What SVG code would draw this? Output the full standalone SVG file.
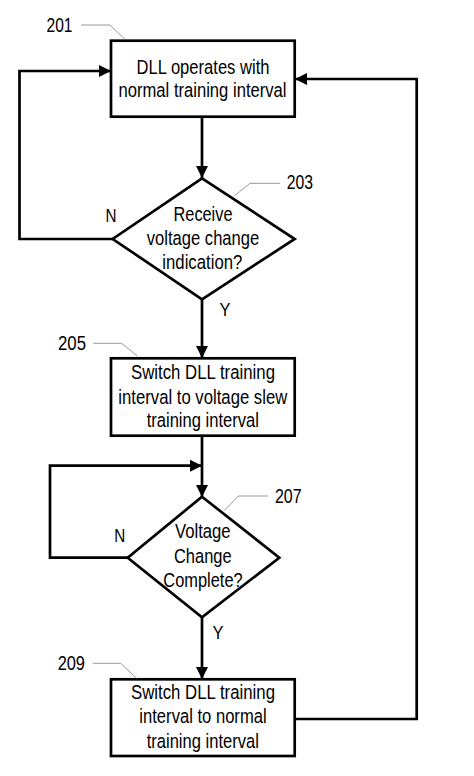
<svg xmlns="http://www.w3.org/2000/svg" width="474" height="776" viewBox="0 0 474 776">
<defs>
<marker id="arr" markerUnits="userSpaceOnUse" markerWidth="13" markerHeight="12" refX="12" refY="6" orient="auto">
<path d="M0,0 L12,6 L0,12 Z" fill="#000"/>
</marker>
<style>
.box{fill:#fff;stroke:#000;stroke-width:2.7}
.t{font-family:"Liberation Sans",Arial,sans-serif;font-size:20.5px;fill:#000;text-anchor:middle}
.lb{font-family:"Liberation Sans",Arial,sans-serif;font-size:20px;fill:#000;text-anchor:middle}
.yn{font-family:"Liberation Sans",Arial,sans-serif;font-size:17.5px;fill:#000;text-anchor:middle}
.ld{fill:none;stroke:#999;stroke-width:1}
.c{fill:none;stroke:#000;stroke-width:2.7}
</style>
</defs>
<rect width="474" height="776" fill="#fff"/>
<g id="connectors">
<path class="c" d="M202,117 V178" marker-end="url(#arr)"/>
<path class="c" d="M113,239 H19.5 V71 H111" marker-end="url(#arr)"/>
<path class="c" d="M202,299 V358" marker-end="url(#arr)"/>
<path class="c" d="M202,436 V497" marker-end="url(#arr)"/>
<path class="c" d="M128,557.7 H50 V465.7 H202" marker-end="url(#arr)"/>
<path class="c" d="M202,617 V679" marker-end="url(#arr)"/>
<path class="c" d="M295,719 H416.7 V79 H295" marker-end="url(#arr)"/>
<text class="yn" x="111" y="222.3" textLength="11" lengthAdjust="spacingAndGlyphs">N</text>
<text class="yn" x="225" y="315.6" textLength="11" lengthAdjust="spacingAndGlyphs">Y</text>
<text class="yn" x="119.7" y="541.7" textLength="11" lengthAdjust="spacingAndGlyphs">N</text>
<text class="yn" x="218" y="639.3" textLength="11" lengthAdjust="spacingAndGlyphs">Y</text>
</g>
<g id="n201">
<rect class="box" x="111" y="40.7" width="183.7" height="76"/>
<text class="t" x="203" y="73.5" textLength="133" lengthAdjust="spacingAndGlyphs">DLL operates with</text>
<text class="t" x="202.5" y="96.5" textLength="168" lengthAdjust="spacingAndGlyphs">normal training interval</text>
<text class="lb" x="59.5" y="31.7" textLength="26" lengthAdjust="spacingAndGlyphs">201</text>
<path class="ld" d="M81,25 H110 L125,39.3"/>
</g>
<g id="n203">
<polygon class="box" points="202,178.3 294.7,239 202,299.3 112.7,239"/>
<text class="t" x="203" y="220.7" textLength="59" lengthAdjust="spacingAndGlyphs">Receive</text>
<text class="t" x="203" y="245" textLength="112.5" lengthAdjust="spacingAndGlyphs">voltage change</text>
<text class="t" x="202.3" y="269" textLength="80" lengthAdjust="spacingAndGlyphs">indication?</text>
<text class="lb" x="299.8" y="189" textLength="26.3" lengthAdjust="spacingAndGlyphs">203</text>
<path class="ld" d="M280,183.3 H250 L234.3,196"/>
</g>
<g id="n205">
<rect class="box" x="111" y="358.3" width="183.7" height="77.4"/>
<text class="t" x="203" y="379" textLength="144" lengthAdjust="spacingAndGlyphs">Switch DLL training</text>
<text class="t" x="202.8" y="403.5" textLength="169" lengthAdjust="spacingAndGlyphs">interval to voltage slew</text>
<text class="t" x="202.8" y="427" textLength="112.3" lengthAdjust="spacingAndGlyphs">training interval</text>
<text class="lb" x="72" y="350" textLength="28" lengthAdjust="spacingAndGlyphs">205</text>
<path class="ld" d="M93.3,343.3 H121.7 L137.3,356"/>
</g>
<g id="n207">
<polygon class="box" points="202,496.7 279.3,557.7 202,617.3 127.7,557.7"/>
<text class="t" x="202.8" y="538.3" textLength="55.7" lengthAdjust="spacingAndGlyphs">Voltage</text>
<text class="t" x="202.8" y="563.3" textLength="57.7" lengthAdjust="spacingAndGlyphs">Change</text>
<text class="t" x="203" y="587.3" textLength="79.3" lengthAdjust="spacingAndGlyphs">Complete?</text>
<text class="lb" x="288.3" y="502.7" textLength="26.7" lengthAdjust="spacingAndGlyphs">207</text>
<path class="ld" d="M268.3,496 H238.3 L224,510.7"/>
</g>
<g id="n209">
<rect class="box" x="111" y="679.3" width="183.7" height="76.7"/>
<text class="t" x="203" y="699.3" textLength="144" lengthAdjust="spacingAndGlyphs">Switch DLL training</text>
<text class="t" x="203" y="723.3" textLength="127.3" lengthAdjust="spacingAndGlyphs">interval to normal</text>
<text class="t" x="202.8" y="747.7" textLength="112.3" lengthAdjust="spacingAndGlyphs">training interval</text>
<text class="lb" x="71.3" y="670" textLength="27.3" lengthAdjust="spacingAndGlyphs">209</text>
<path class="ld" d="M92.7,663.3 H120.7 L136.7,678.3"/>
</g>
</svg>
